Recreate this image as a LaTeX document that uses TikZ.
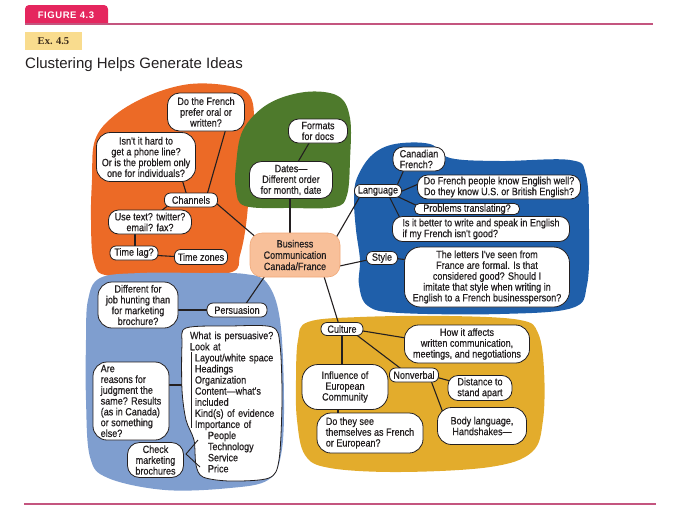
\documentclass[tikz,border=0pt]{standalone}
\usepackage{fontspec}
\setmainfont{Liberation Sans}
\newfontfamily\cond[FakeStretch=0.86,FakeBold=0.5]{Liberation Sans}
\newfontfamily\exserif{Liberation Serif}
\usetikzlibrary{calc}
\definecolor{figpink}{HTML}{E5265E}
\definecolor{figline}{HTML}{C4557F}
\definecolor{exyellow}{HTML}{F9DC8E}
\definecolor{extext}{HTML}{3A2A1A}
\definecolor{ink}{HTML}{231F20}
\definecolor{borange}{HTML}{EC6A26}
\definecolor{bgreen}{HTML}{4E7A2C}
\definecolor{bblue}{HTML}{1F5FAA}
\definecolor{bslate}{HTML}{7F9ECF}
\definecolor{bgold}{HTML}{E3AC2C}
\definecolor{peach}{HTML}{F8C09A}
\definecolor{peachedge}{HTML}{F0A878}
\pgfdeclarelayer{blob}
\pgfdeclarelayer{lines}
\pgfsetlayers{blob,lines,main}
\begin{document}
\begin{tikzpicture}[x=1pt,y=-1pt,
  bub/.style={draw=ink, fill=white, line width=0.8pt, rounded corners=6pt, inner sep=0pt, align=center, text=ink, font=\cond\fontsize{10.5}{10.8}\selectfont},
  con/.style={draw=ink, line width=1.1pt},
  blobshape/.style={smooth cycle, tension=0.6}]
\useasboundingbox (0,0) rectangle (685,507);

% header
\fill[figpink] (25,24) -- (25,9) arc[start angle=180, end angle=90, radius=4pt] -- (104,5) arc[start angle=90, end angle=0, radius=4pt] -- (108,24) -- cycle;
\node[inner sep=0pt, text=white, font=\bfseries\fontsize{9.5}{10}\selectfont\addfontfeatures{LetterSpace=6}] (figlab) at (66,15) {FIGURE 4.3};
\coordinate (hlA) at (25,24);
\coordinate (hlB) at (653,24);
\draw[figline, line width=1.4pt] (hlA) -- (hlB);
\node[fill=exyellow, minimum width=57pt, minimum height=18pt, inner sep=0pt, text=extext, font=\exserif\bfseries\fontsize{10.5}{11}\selectfont] (ex) at (53.5,41) {Ex. 4.5};
\node[anchor=base west, inner sep=0pt, text=ink, font=\fontsize{15}{18}\selectfont] (title) at (25,68) {Clustering Helps Generate Ideas};
\coordinate (flA) at (24,504);
\coordinate (flB) at (656,504);
\draw[figline, line width=1.4pt] (flA) -- (flB);

% blobs
\begin{pgfonlayer}{blob}
\fill[borange] plot[blobshape] coordinates {(92,180) (95,140) (115,115) (150,95) (190,84) (230,86) (250,96) (254,125) (250,180) (246,225) (240,255) (232,272) (180,277) (110,276) (94,262) (91,220)};
\fill[bgreen] plot[blobshape] coordinates {(236,165) (243,130) (268,104) (305,92) (338,96) (350,118) (350,160) (347,195) (335,207) (290,208) (245,206) (236,190)};
\fill[bblue] plot[blobshape] coordinates {(357,178) (372,155) (395,144) (430,144) (450,158) (500,161) (570,160) (586,175) (589,230) (587,285) (572,308) (500,314) (400,313) (368,306) (359,285) (360,260) (356,230) (354,200)};
\fill[bslate] plot[blobshape] coordinates {(88,300) (100,278) (140,273) (200,273) (245,274) (267,283) (280,320) (284,400) (281,455) (268,480) (230,488) (165,490) (108,478) (90,457) (86,400) (86,340)};
\fill[bgold] plot[blobshape] coordinates {(298,340) (308,322) (360,317) (450,316) (520,320) (538,333) (544,370) (543,420) (532,452) (490,467) (400,472) (330,468) (305,455) (297,420) (296,380)};
\end{pgfonlayer}

% centre
\node[fill=peach, draw=peachedge, line width=0.6pt, minimum width=90pt, minimum height=44pt, rounded corners=12pt, inner sep=0pt, align=center, text=ink, font=\cond\fontsize{10.5}{11.3}\selectfont] (biz) at (295,255) {Business\\Communication\\Canada/France};

% orange cluster
\node[bub, minimum width=77pt, minimum height=38pt, rounded corners=12pt] (dofr) at (206,112) {Do the French\\prefer oral or\\written?};
\node[bub, minimum width=99pt, minimum height=49pt, rounded corners=14pt] (hard) at (146,157) {Isn't it hard to\\get a phone line?\\Or is the problem only\\one for individuals?};
\node[bub, minimum width=53pt, minimum height=14pt] (chan) at (191,200) {Channels};
\node[bub, minimum width=83pt, minimum height=24pt, rounded corners=10pt] (usetx) at (150,222) {Use text? twitter?\\email? fax?};
\node[bub, minimum width=48pt, minimum height=14pt] (tlag) at (134,253) {Time lag?};
\node[bub, minimum width=53pt, minimum height=15pt] (tzone) at (201,257) {Time zones};

% green cluster
\node[bub, minimum width=59pt, minimum height=24pt, rounded corners=10pt] (fmt) at (318,131) {Formats\\for docs};
\node[bub, minimum width=83pt, minimum height=37pt, rounded corners=12pt] (dates) at (291,180) {Dates—\\Different order\\for month, date};

% blue cluster
\node[bub, minimum width=52pt, minimum height=24pt, rounded corners=10pt, align=left] (canf) at (419,159) {Canadian\\French?};
\node[bub, minimum width=47pt, minimum height=13pt] (lang) at (378,191) {Language};
\node[bub, minimum width=163pt, minimum height=24pt, rounded corners=10pt] (dofp) at (499,187) {Do French people know English well?\\Do they know U.S. or British English?};
\node[bub, minimum width=105pt, minimum height=11pt, rounded corners=5pt] (prob) at (467,209) {Problems translating?};
\node[bub, minimum width=177pt, minimum height=25pt, rounded corners=10pt, align=left] (isbet) at (481,229) {Is it better to write and speak in English\\if my French isn't good?};
\node[bub, minimum width=31pt, minimum height=13pt] (style) at (382,258) {Style};
\node[bub, minimum width=165pt, minimum height=60pt, rounded corners=16pt] (lett) at (487,277) {The letters I've seen from\\France are formal. Is that\\considered good? Should I\\imitate that style when writing in\\English to a French businessperson?};

% slate cluster
\node[bub, minimum width=80pt, minimum height=46pt, rounded corners=14pt] (diff) at (138,305) {Different for\\job hunting than\\for marketing\\brochure?};
\node[bub, minimum width=60pt, minimum height=14pt] (pers) at (237,310) {Persuasion};
\fill[white, draw=ink, line width=0.8pt] plot[smooth cycle, tension=0.5] coordinates {(186,328) (230,326) (272,327) (280,345) (282,400) (279,460) (269,478) (230,481) (203,477) (196,465) (194,440) (186,420) (182,390) (182,345)};
\node[inner sep=0pt, text width=86pt, align=left, text=ink, font=\cond\fontsize{10.5}{11.1}\selectfont] (whatp) at (233,402) {What is persuasive?\\Look at\\\hspace*{5pt}Layout/white space\\\hspace*{5pt}Headings\\\hspace*{5pt}Organization\\\hspace*{5pt}Content—what's\\\hspace*{5pt}included\\\hspace*{5pt}Kind(s) of evidence\\\hspace*{5pt}Importance of\\\hspace*{18pt}People\\\hspace*{18pt}Technology\\\hspace*{18pt}Service\\\hspace*{18pt}Price};
\coordinate (barT) at (191,352);
\coordinate (barB) at (191,428);
\draw[ink, line width=0.8pt] (barT) -- (barB);
\node[bub, minimum width=76pt, minimum height=78pt, rounded corners=14pt, align=left] (are) at (131,401) {Are\\reasons for\\judgment the\\same? Results\\(as in Canada)\\or something\\else?};
\node[bub, minimum width=56pt, minimum height=35pt, rounded corners=12pt] (check) at (155.5,460) {Check\\marketing\\brochures};
\coordinate (apex) at (186,454);
\coordinate (pplE) at (198,440);
\coordinate (prcE) at (200,467);
\draw[con, line width=0.9pt] (pplE) -- (apex) -- (prcE);

% gold cluster
\node[bub, minimum width=42pt, minimum height=13pt] (cult) at (342,329) {Culture};
\node[bub, minimum width=125pt, minimum height=38pt, rounded corners=14pt] (how) at (467,344) {How it affects\\written communication,\\meetings, and negotiations};
\node[bub, minimum width=86pt, minimum height=45pt, rounded corners=16pt] (infl) at (345,387) {Influence of\\European\\Community};
\node[bub, minimum width=49pt, minimum height=14pt] (nonv) at (414,375) {Nonverbal};
\node[bub, minimum width=64pt, minimum height=25pt, rounded corners=10pt] (dist) at (480,388) {Distance to\\stand apart};
\node[bub, minimum width=106pt, minimum height=40pt, rounded corners=14pt, align=left] (dothey) at (370,433) {Do they see\\themselves as French\\or European?};
\node[bub, minimum width=89pt, minimum height=37pt, rounded corners=14pt] (body) at (482,426) {Body language,\\Handshakes—};

% connectors
\begin{pgfonlayer}{lines}
\draw[con] ($(chan)+(14.5,0)$) -- ($(dofr)+(21,13)$);
\draw[con] ($(chan)+(-3,-1)$) -- ($(hard)+(35,19)$);
\draw[con] ($(chan)+(-21,4)$) -- ($(usetx)+(6,-7)$);
\draw[con] ($(usetx)+(-15,5)$) -- ($(tlag)+(1,0)$);
\draw[con] ($(tlag)+(15,2)$) -- ($(tzone)+(-18,0)$);
\draw[con] ($(chan)+(25,3)$) -- ($(biz)+(-37,-16)$);
\draw[con] ($(fmt)+(-6,7)$) -- ($(dates)+(4,-13)$);
\draw[con] ($(dates)+(-1,10)$) -- ($(biz)+(-5,-15)$);
\draw[con] ($(lang)+(17,-1)$) -- ($(canf)+(-12,4)$);
\draw[con] ($(lang)+(15,4)$) -- ($(dofp)+(-76,-5)$);
\draw[con] ($(lang)+(12,2)$) -- ($(prob)+(-45,-1)$);
\draw[con] ($(lang)+(10,3)$) -- ($(isbet)+(-78,-5)$);
\draw[con] ($(lang)+(-16,2)$) -- ($(biz)+(38,-12)$);
\draw[con] ($(style)+(-10,1)$) -- ($(biz)+(40,12)$);
\draw[con] ($(style)+(10,0)$) -- ($(lett)+(-70,-16)$);
\draw[con] ($(pers)+(-20,0)$) -- ($(diff)+(30,5)$);
\draw[con] ($(pers)+(6,-2)$) -- ($(biz)+(-26,15)$);
\draw[con] ($(are)+(30,-16)$) -- ($(whatp)+(-44,-17)$);
\draw[con] ($(cult)+(-2,-1)$) -- ($(biz)+(27,15)$);
\draw[con] ($(cult)+(15,1)$) -- ($(how)+(-55,-5)$);
\draw[con] ($(cult)+(12,4)$) -- ($(nonv)+(-10,-4)$);
\draw[con] ($(cult)+(0,3)$) -- ($(infl)+(-3,-15)$);
\draw[con] ($(infl)+(-7,15)$) -- ($(dothey)+(-32,-12)$);
\draw[con] ($(nonv)+(18,1)$) -- ($(dist)+(-26,-6)$);
\draw[con] ($(nonv)+(16,3)$) -- ($(body)+(-37,-8)$);
\end{pgfonlayer}
\end{tikzpicture}
\end{document}
